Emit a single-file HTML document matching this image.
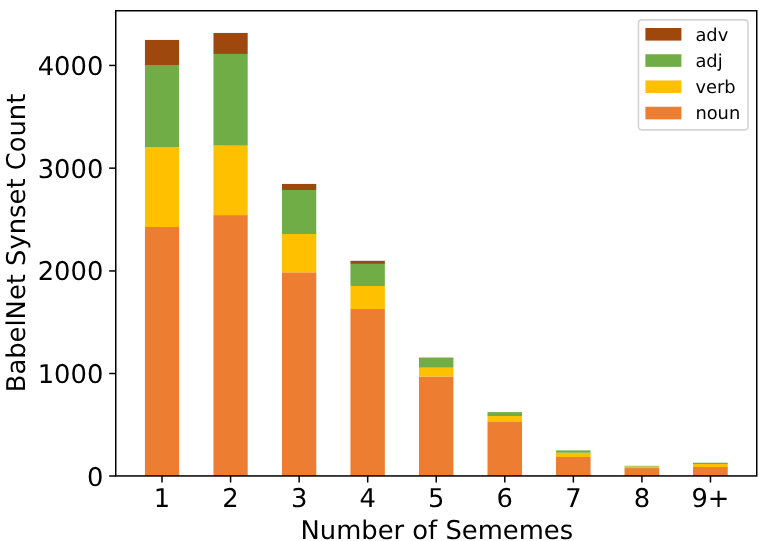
<!DOCTYPE html>
<html lang="en"><head><meta charset="utf-8"><title>Number of Sememes</title>
<style>html,body{margin:0;padding:0;background:#fff}svg{display:block}text{font-family:"DejaVu Sans","Liberation Sans",sans-serif;fill:#000;text-rendering:geometricPrecision}</style></head><body>
<svg width="772" height="541" viewBox="0 0 772 541">
<rect x="0" y="0" width="772" height="541" fill="#fff"/>
<g shape-rendering="auto">
<rect x="144.95" y="227.00" width="34.15" height="248.95" fill="#ED7D31"/>
<rect x="144.95" y="147.00" width="34.15" height="80.00" fill="#FFC000"/>
<rect x="144.95" y="65.00" width="34.15" height="82.00" fill="#70AD47"/>
<rect x="144.95" y="39.95" width="34.15" height="25.05" fill="#9E480E"/>
<rect x="213.46" y="215.10" width="34.22" height="260.85" fill="#ED7D31"/>
<rect x="213.46" y="145.60" width="34.22" height="69.50" fill="#FFC000"/>
<rect x="213.46" y="53.95" width="34.22" height="91.65" fill="#70AD47"/>
<rect x="213.46" y="32.95" width="34.22" height="21.00" fill="#9E480E"/>
<rect x="281.97" y="272.35" width="34.29" height="203.60" fill="#ED7D31"/>
<rect x="281.97" y="234.00" width="34.29" height="38.35" fill="#FFC000"/>
<rect x="281.97" y="190.00" width="34.29" height="44.00" fill="#70AD47"/>
<rect x="281.97" y="183.93" width="34.29" height="6.07" fill="#9E480E"/>
<rect x="350.48" y="309.00" width="34.36" height="166.95" fill="#ED7D31"/>
<rect x="350.48" y="286.00" width="34.36" height="23.00" fill="#FFC000"/>
<rect x="350.48" y="263.90" width="34.36" height="22.10" fill="#70AD47"/>
<rect x="350.48" y="260.80" width="34.36" height="3.10" fill="#9E480E"/>
<rect x="418.99" y="376.55" width="34.43" height="99.40" fill="#ED7D31"/>
<rect x="418.99" y="367.60" width="34.43" height="8.95" fill="#FFC000"/>
<rect x="418.99" y="357.72" width="34.43" height="9.88" fill="#70AD47"/>
<rect x="418.99" y="357.55" width="34.43" height="0.17" fill="#9E480E"/>
<rect x="487.50" y="422.00" width="34.50" height="53.95" fill="#ED7D31"/>
<rect x="487.50" y="416.00" width="34.50" height="6.00" fill="#FFC000"/>
<rect x="487.50" y="412.10" width="34.50" height="3.90" fill="#70AD47"/>
<rect x="556.01" y="457.00" width="34.57" height="18.95" fill="#ED7D31"/>
<rect x="556.01" y="452.70" width="34.57" height="4.30" fill="#FFC000"/>
<rect x="556.01" y="450.40" width="34.57" height="2.30" fill="#70AD47"/>
<rect x="624.52" y="468.05" width="34.64" height="7.90" fill="#ED7D31"/>
<rect x="624.52" y="466.45" width="34.64" height="1.60" fill="#FFC000"/>
<rect x="624.52" y="465.85" width="34.64" height="0.60" fill="#70AD47"/>
<rect x="693.03" y="467.00" width="34.71" height="8.95" fill="#ED7D31"/>
<rect x="693.03" y="464.00" width="34.71" height="3.00" fill="#FFC000"/>
<rect x="693.03" y="462.74" width="34.71" height="1.26" fill="#70AD47"/>
</g>
<line x1="162.03" y1="475.95" x2="162.03" y2="482.55" stroke="#000" stroke-width="1.5"/>
<line x1="230.58" y1="475.95" x2="230.58" y2="482.55" stroke="#000" stroke-width="1.5"/>
<line x1="299.14" y1="475.95" x2="299.14" y2="482.55" stroke="#000" stroke-width="1.5"/>
<line x1="367.69" y1="475.95" x2="367.69" y2="482.55" stroke="#000" stroke-width="1.5"/>
<line x1="436.25" y1="475.95" x2="436.25" y2="482.55" stroke="#000" stroke-width="1.5"/>
<line x1="504.81" y1="475.95" x2="504.81" y2="482.55" stroke="#000" stroke-width="1.5"/>
<line x1="573.36" y1="475.95" x2="573.36" y2="482.55" stroke="#000" stroke-width="1.5"/>
<line x1="641.92" y1="475.95" x2="641.92" y2="482.55" stroke="#000" stroke-width="1.5"/>
<line x1="710.47" y1="475.95" x2="710.47" y2="482.55" stroke="#000" stroke-width="1.5"/>
<line x1="109.15" y1="476.00" x2="115.75" y2="476.00" stroke="#000" stroke-width="1.5"/>
<line x1="109.15" y1="373.50" x2="115.75" y2="373.50" stroke="#000" stroke-width="1.5"/>
<line x1="109.15" y1="270.95" x2="115.75" y2="270.95" stroke="#000" stroke-width="1.5"/>
<line x1="109.15" y1="168.15" x2="115.75" y2="168.15" stroke="#000" stroke-width="1.5"/>
<line x1="109.15" y1="65.45" x2="115.75" y2="65.45" stroke="#000" stroke-width="1.5"/>
<rect x="115.75" y="10.75" width="641.00" height="465.20" fill="none" stroke="#000" stroke-width="1.5" stroke-linejoin="miter"/>
<text x="162.03" y="507.35" font-size="25.8" text-anchor="middle">1</text>
<text x="230.58" y="507.35" font-size="25.8" text-anchor="middle">2</text>
<text x="299.14" y="507.35" font-size="25.8" text-anchor="middle">3</text>
<text x="367.69" y="507.35" font-size="25.8" text-anchor="middle">4</text>
<text x="436.25" y="507.35" font-size="25.8" text-anchor="middle">5</text>
<text x="504.81" y="507.35" font-size="25.8" text-anchor="middle">6</text>
<text x="573.36" y="507.35" font-size="25.8" text-anchor="middle">7</text>
<text x="641.92" y="507.35" font-size="25.8" text-anchor="middle">8</text>
<text x="710.47" y="507.35" font-size="25.8" text-anchor="middle">9+</text>
<text x="103.3" y="485.90" font-size="25.8" text-anchor="end">0</text>
<text x="103.3" y="383.20" font-size="25.8" text-anchor="end">1000</text>
<text x="103.3" y="280.30" font-size="25.8" text-anchor="end">2000</text>
<text x="103.3" y="177.80" font-size="25.8" text-anchor="end">3000</text>
<text x="103.3" y="75.10" font-size="25.8" text-anchor="end">4000</text>
<text x="436.8" y="539.0" font-size="25.8" text-anchor="middle">Number of Sememes</text>
<text transform="translate(25.25 243.0) rotate(-90)" font-size="25.8" text-anchor="middle">BabelNet Synset Count</text>
<rect x="638.45" y="19.85" width="109.55" height="110.05" rx="3.3" ry="3.3" fill="#fff" fill-opacity="0.8" stroke="#ccc" stroke-opacity="0.85" stroke-width="1.6"/>
<rect x="645.4" y="28.0" width="36" height="12.6" fill="#9E480E"/>
<text x="695.4" y="41.30" font-size="17.85">adv</text>
<rect x="645.4" y="54.25" width="36" height="12.6" fill="#70AD47"/>
<text x="695.4" y="66.60" font-size="17.85">adj</text>
<rect x="645.4" y="80.45" width="36" height="12.6" fill="#FFC000"/>
<text x="695.4" y="92.80" font-size="17.85">verb</text>
<rect x="645.4" y="106.75" width="36" height="12.6" fill="#ED7D31"/>
<text x="695.4" y="119.10" font-size="17.85">noun</text>
</svg></body></html>
